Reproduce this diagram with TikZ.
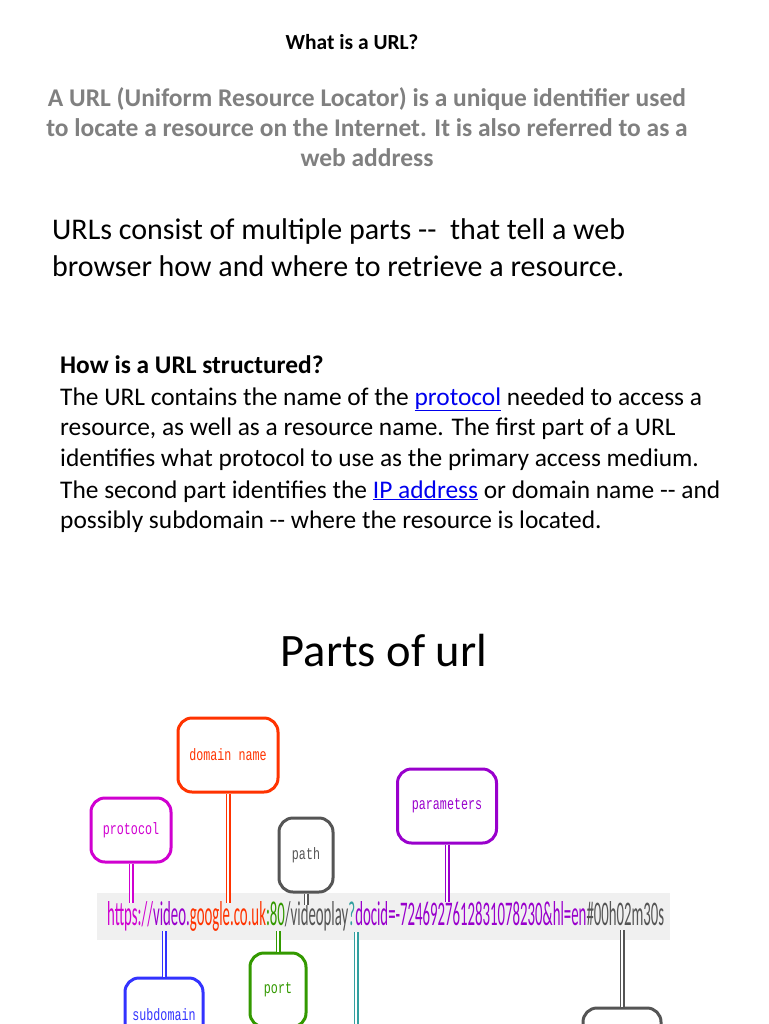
\documentclass[tikz,border=0pt]{standalone}
\usepackage{fontspec}
\setmainfont{Carlito}
\newfontfamily\monof{Liberation Mono}
\definecolor{greyt}{HTML}{808080}
\definecolor{cprot}{HTML}{D000D0}
\definecolor{cdom}{HTML}{FF3300}
\definecolor{cpath}{HTML}{555555}
\definecolor{cpar}{HTML}{9900CC}
\definecolor{csub}{HTML}{3333FF}
\definecolor{cport}{HTML}{339900}
\definecolor{cteal}{HTML}{33A0A0}
\definecolor{linkb}{HTML}{0000EE}
\tikzset{
  lbl/.style={draw=#1, line width=3pt, rounded corners=14pt, text=#1, inner sep=0pt, font=\monof\fontsize{15}{15}\selectfont},
  txt/.style={anchor=base west, inner sep=0pt},
  ctxt/.style={anchor=base, inner sep=0pt},
  grey/.style={ctxt, text=greyt, font=\bfseries\fontsize{25.5}{30}\selectfont},
  big/.style={txt, font=\fontsize{30}{36}\selectfont},
  bod/.style={txt, font=\fontsize{25.4}{30}\selectfont},
}
\newcommand{\lb}[1]{\scalebox{0.78}[1.1]{#1}}
\newcommand{\stem}[3]{\draw[#1, line width=5pt] (#2) -- (#3); \draw[white, line width=1.6pt] (#2) -- (#3);}
\begin{document}
\begin{tikzpicture}[x=1pt,y=-1pt]
\useasboundingbox (0,0) rectangle (768,1024);
\node[ctxt, font=\bfseries\fontsize{21.5}{24}\selectfont] (t) at (352,50) {What is a URL?};
\node[grey] (g1) at (367,107) {A URL (Uniform Resource Locator) is a unique identifier used};
\node[grey] (g2) at (367,137) {to locate a resource on the Internet. It is also referred to as a};
\node[grey] (g3) at (367,167) {web address};
\node[big] (c1) at (52,240) {URLs consist of multiple parts -{}-\ \ that tell a web};
\node[big] (c2) at (52,276) {browser how and where to retrieve a resource.};
\node[txt, font=\bfseries\fontsize{25.4}{30}\selectfont] (how) at (60,373) {How is a URL structured?};
\node[bod] (b1) at (60,405) {The URL contains the name of the \textcolor{linkb}{\underline{protocol}} needed to access a};
\node[bod] (b2) at (60,435) {resource, as well as a resource name. The first part of a URL};
\node[bod] (b3) at (60,466) {identifies what protocol to use as the primary access medium.};
\node[bod] (b4) at (60,498) {The second part identifies the \textcolor{linkb}{\underline{IP address}} or domain name -{}- and};
\node[bod] (b5) at (60,528) {possibly subdomain -{}- where the resource is located.};
\node[ctxt, font=\fontsize{46.5}{48}\selectfont] (parts) at (384,666) {Parts of url};
% URL bar
\fill[black!6] (97,893) rectangle (670,940);
\node[inner sep=0pt, anchor=west] (url) at (107,916) {\resizebox{557pt}{24pt}{\textcolor{cprot}{https://}\textcolor{cpar}{video.}\textcolor{cdom}{google.co.uk}\textcolor{cport}{:80}\textcolor{cpath}{/videoplay}\textcolor{cteal}{?}\textcolor{cpar}{docid=-7246927612831078230\&hl=en}\textcolor{cpath}{\#00h02m30s}}};
% boxes
\node[lbl=cprot, minimum width=80pt, minimum height=64pt] (prot) at (131,830) {\lb{protocol}};
\node[lbl=cdom, minimum width=100pt, minimum height=74pt] (dom) at (228,755) {\lb{domain name}};
\node[lbl=cpath, minimum width=54pt, minimum height=74pt] (path) at (306,855) {\lb{path}};
\node[lbl=cpar, minimum width=99pt, minimum height=74pt] (par) at (447,806) {\lb{parameters}};
\node[lbl=csub, minimum width=78pt, minimum height=74pt] (sub) at (164,1015) {\lb{subdomain}};
\node[lbl=cport, minimum width=56pt, minimum height=74pt] (port) at (278,990) {\lb{port}};
\node[lbl=cpath, minimum width=78pt, minimum height=74pt] (frag) at (622,1045) {};
\coordinate (p1) at (131,903); \coordinate (d1) at (228,903); \coordinate (pa1) at (306,905);
\coordinate (q1) at (447,902); \coordinate (s1) at (164,931); \coordinate (po1) at (278,931);
\coordinate (f1) at (622,930); \coordinate (te1) at (356,932); \coordinate (te2) at (356,1024);
\stem{cprot}{prot.south}{p1}
\stem{cdom}{dom.south}{d1}
\stem{cpath}{path.south}{pa1}
\stem{cpar}{par.south}{q1}
\stem{csub}{s1}{sub.north}
\stem{cport}{po1}{port.north}
\stem{cpath}{f1}{frag.north}
\stem{cteal}{te1}{te2}
\end{tikzpicture}
\end{document}
